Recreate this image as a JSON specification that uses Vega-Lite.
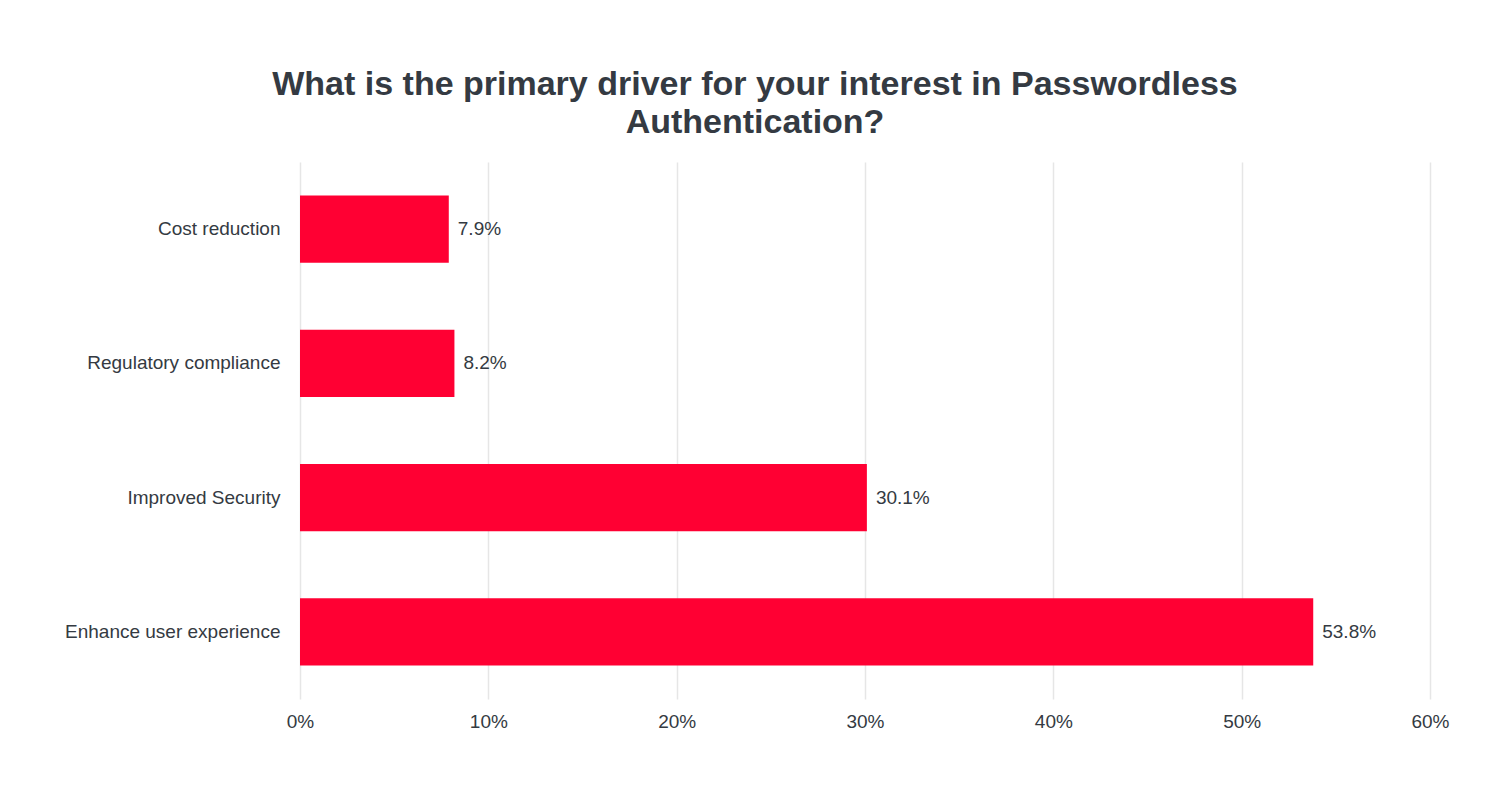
{
  "$schema": "https://vega.github.io/schema/vega-lite/v6.json",
  "width": 1130,
  "height": 537,
  "autosize": {"type": "none"},
  "padding": {"left": 300, "top": 162, "right": 80, "bottom": 97},
  "background": "white",
  "config": {
    "view": {"stroke": "transparent"},
    "font": "Liberation Sans"
  },
  "title": {
    "text": ["What is the primary driver for your interest in Passwordless", "Authentication?"],
    "fontSize": 34,
    "lineHeight": 38,
    "fontWeight": "bold",
    "color": "#343a42",
    "anchor": "middle",
    "dx": -110,
    "offset": 22
  },
  "data": {
    "values": [
      {"driver": "Cost reduction", "share": 0.079},
      {"driver": "Regulatory compliance", "share": 0.082},
      {"driver": "Improved Security", "share": 0.301},
      {"driver": "Enhance user experience", "share": 0.538}
    ]
  },
  "encoding": {
    "y": {
      "field": "driver",
      "type": "nominal",
      "sort": null,
      "title": null,
      "scale": {"paddingInner": 0.5, "paddingOuter": 0.25},
      "axis": {
        "ticks": false,
        "domain": false,
        "labelFontSize": 19,
        "labelLimit": 0,
        "labelColor": "#343a42",
        "labelPadding": 20
      }
    },
    "x": {
      "field": "share",
      "type": "quantitative",
      "title": null,
      "scale": {"domain": [0, 0.6], "nice": false},
      "axis": {
        "values": [0, 0.1, 0.2, 0.3, 0.4, 0.5, 0.6],
        "format": ".0%",
        "labelFlush": false,
        "ticks": false,
        "domain": false,
        "grid": true,
        "gridColor": "#e6e6e6",
        "gridWidth": 1.5,
        "labelFontSize": 19,
        "labelColor": "#343a42",
        "labelPadding": 13
      }
    }
  },
  "layer": [
    {
      "mark": {"type": "bar", "color": "#ff0033"}
    },
    {
      "mark": {"type": "text", "align": "left", "dx": 9, "fontSize": 19, "color": "#343a42"},
      "encoding": {
        "text": {"field": "share", "type": "quantitative", "format": ".1%"}
      }
    }
  ]
}
